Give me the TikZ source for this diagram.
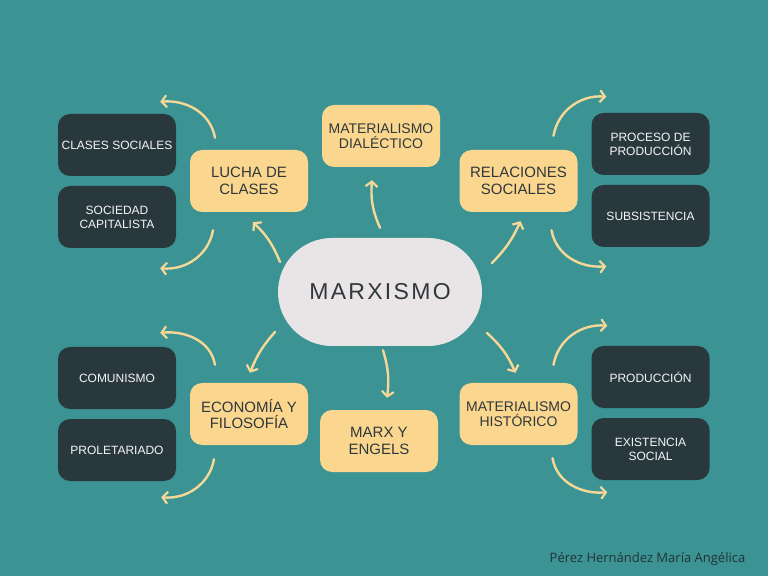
\documentclass[tikz,border=0pt]{standalone}
\usepackage{fontspec}
\setmainfont{Liberation Sans}
\newfontfamily\creditfont{Open Sans}
\usetikzlibrary{arrows.meta}

\definecolor{bgteal}{RGB}{59,147,148}
\definecolor{topicyellow}{RGB}{250,214,142}
\definecolor{leafdark}{RGB}{40,56,61}
\definecolor{pillgray}{RGB}{233,228,230}
\definecolor{arrowcream}{RGB}{246,216,150}
\definecolor{textdark}{RGB}{48,56,60}

\begin{document}
\begin{tikzpicture}[x=1pt, y=1pt,
    pill/.style={rectangle, fill=pillgray, rounded corners=54pt, minimum width=204pt,
        minimum height=108pt, inner sep=0pt, text=textdark,
        font=\fontsize{23}{27}\selectfont\addfontfeature{LetterSpace=10}},
    topic/.style={rectangle, fill=topicyellow, rounded corners=12pt, minimum width=118pt,
        minimum height=62pt, inner sep=0pt, align=center, text=textdark,
        font=\fontsize{15}{16.5}\selectfont},
    longtopic/.style={topic, font=\fontsize{14}{15.5}\selectfont},
    leaf/.style={rectangle, fill=leafdark, rounded corners=12pt, minimum width=118pt,
        minimum height=62pt, inner sep=0pt, align=center, text=white!93!gray,
        font=\fontsize{12}{14}\selectfont},
    arr/.style={draw=arrowcream, line width=2.4pt, line cap=round,
        -{Straight Barb[length=5pt, width=12pt, line width=2.2pt]}}]
        \useasboundingbox[fill=bgteal] (0,0) rectangle (768,576);

        %nodes
        \node[pill] (marx) at (380,284) {MARXISMO};

        \node[longtopic] (matdia) at (381,440) {MATERIALISMO\\DIALÉCTICO};
        \node[topic] (lucha) at (249,395) {LUCHA DE\\CLASES};
        \node[topic] (relac) at (518.5,395) {RELACIONES\\SOCIALES};
        \node[topic] (econ) at (249,162) {ECONOMÍA Y\\FILOSOFÍA};
        \node[topic] (engels) at (379,135) {MARX Y\\ENGELS};
        \node[longtopic] (mathist) at (518.5,162) {MATERIALISMO\\HISTÓRICO};

        \node[leaf] (clases) at (117,431) {CLASES SOCIALES};
        \node[leaf] (socied) at (117,359) {SOCIEDAD\\CAPITALISTA};
        \node[leaf] (comun) at (117,198) {COMUNISMO};
        \node[leaf] (prolet) at (117,126) {PROLETARIADO};
        \node[leaf] (proceso) at (650.5,432) {PROCESO DE\\PRODUCCIÓN};
        \node[leaf] (subsist) at (650.5,360) {SUBSISTENCIA};
        \node[leaf] (produc) at (650.5,199) {PRODUCCIÓN};
        \node[leaf] (exist) at (650.5,127) {EXISTENCIA\\SOCIAL};

        \node[font=\creditfont\fontsize{13}{15}\selectfont, text=leafdark!90!black] (credit) at (647.5,17)
            {Pérez Hernández María Angélica};

        %edges from the centre
        \draw[arr] ([shift={(-100,30)}]marx.center) to[bend right=12] ([shift={(4,-10)}]lucha.south);
        \draw[arr] ([shift={(0,10)}]marx.north) to[bend left=14] ([shift={(-9,-13)}]matdia.south);
        \draw[arr] ([shift={(112,29)}]marx.center) to[bend right=10] ([shift={(2,-9)}]relac.south);
        \draw[arr] ([shift={(-105,-40)}]marx.center) to[bend right=10] ([shift={(1,10)}]econ.north);
        \draw[arr] ([shift={(3,-4)}]marx.south) to[bend left=12] ([shift={(8,12)}]engels.north);
        \draw[arr] ([shift={(107,-41)}]marx.center) to[bend left=12] ([shift={(-3,10)}]mathist.north);

        %edges to the outer boxes
        \draw[arr] ([shift={(-34,12)}]lucha.north) to[out=100, in=5] ([shift={(-16,12)}]clases.north east);
        \draw[arr] ([shift={(-36,-18)}]lucha.south) to[out=-100, in=-5] ([shift={(-16,-20)}]socied.south east);
        \draw[arr] ([shift={(35,14)}]relac.north) to[out=80, in=175] ([shift={(15,16)}]proceso.north west);
        \draw[arr] ([shift={(33,-18)}]relac.south) to[out=-80, in=185] ([shift={(15,-19)}]subsist.south west);
        \draw[arr] ([shift={(-34,18)}]econ.north) to[out=100, in=5] ([shift={(-16,14)}]comun.north east);
        \draw[arr] ([shift={(-35,-14)}]econ.south) to[out=-100, in=-5] ([shift={(-15,-16)}]prolet.south east);
        \draw[arr] ([shift={(35,18)}]mathist.north) to[out=80, in=175] ([shift={(16,20)}]produc.north west);
        \draw[arr] ([shift={(34,-13)}]mathist.south) to[out=-80, in=185] ([shift={(16,-12)}]exist.south west);
    \end{tikzpicture}
\end{document}
